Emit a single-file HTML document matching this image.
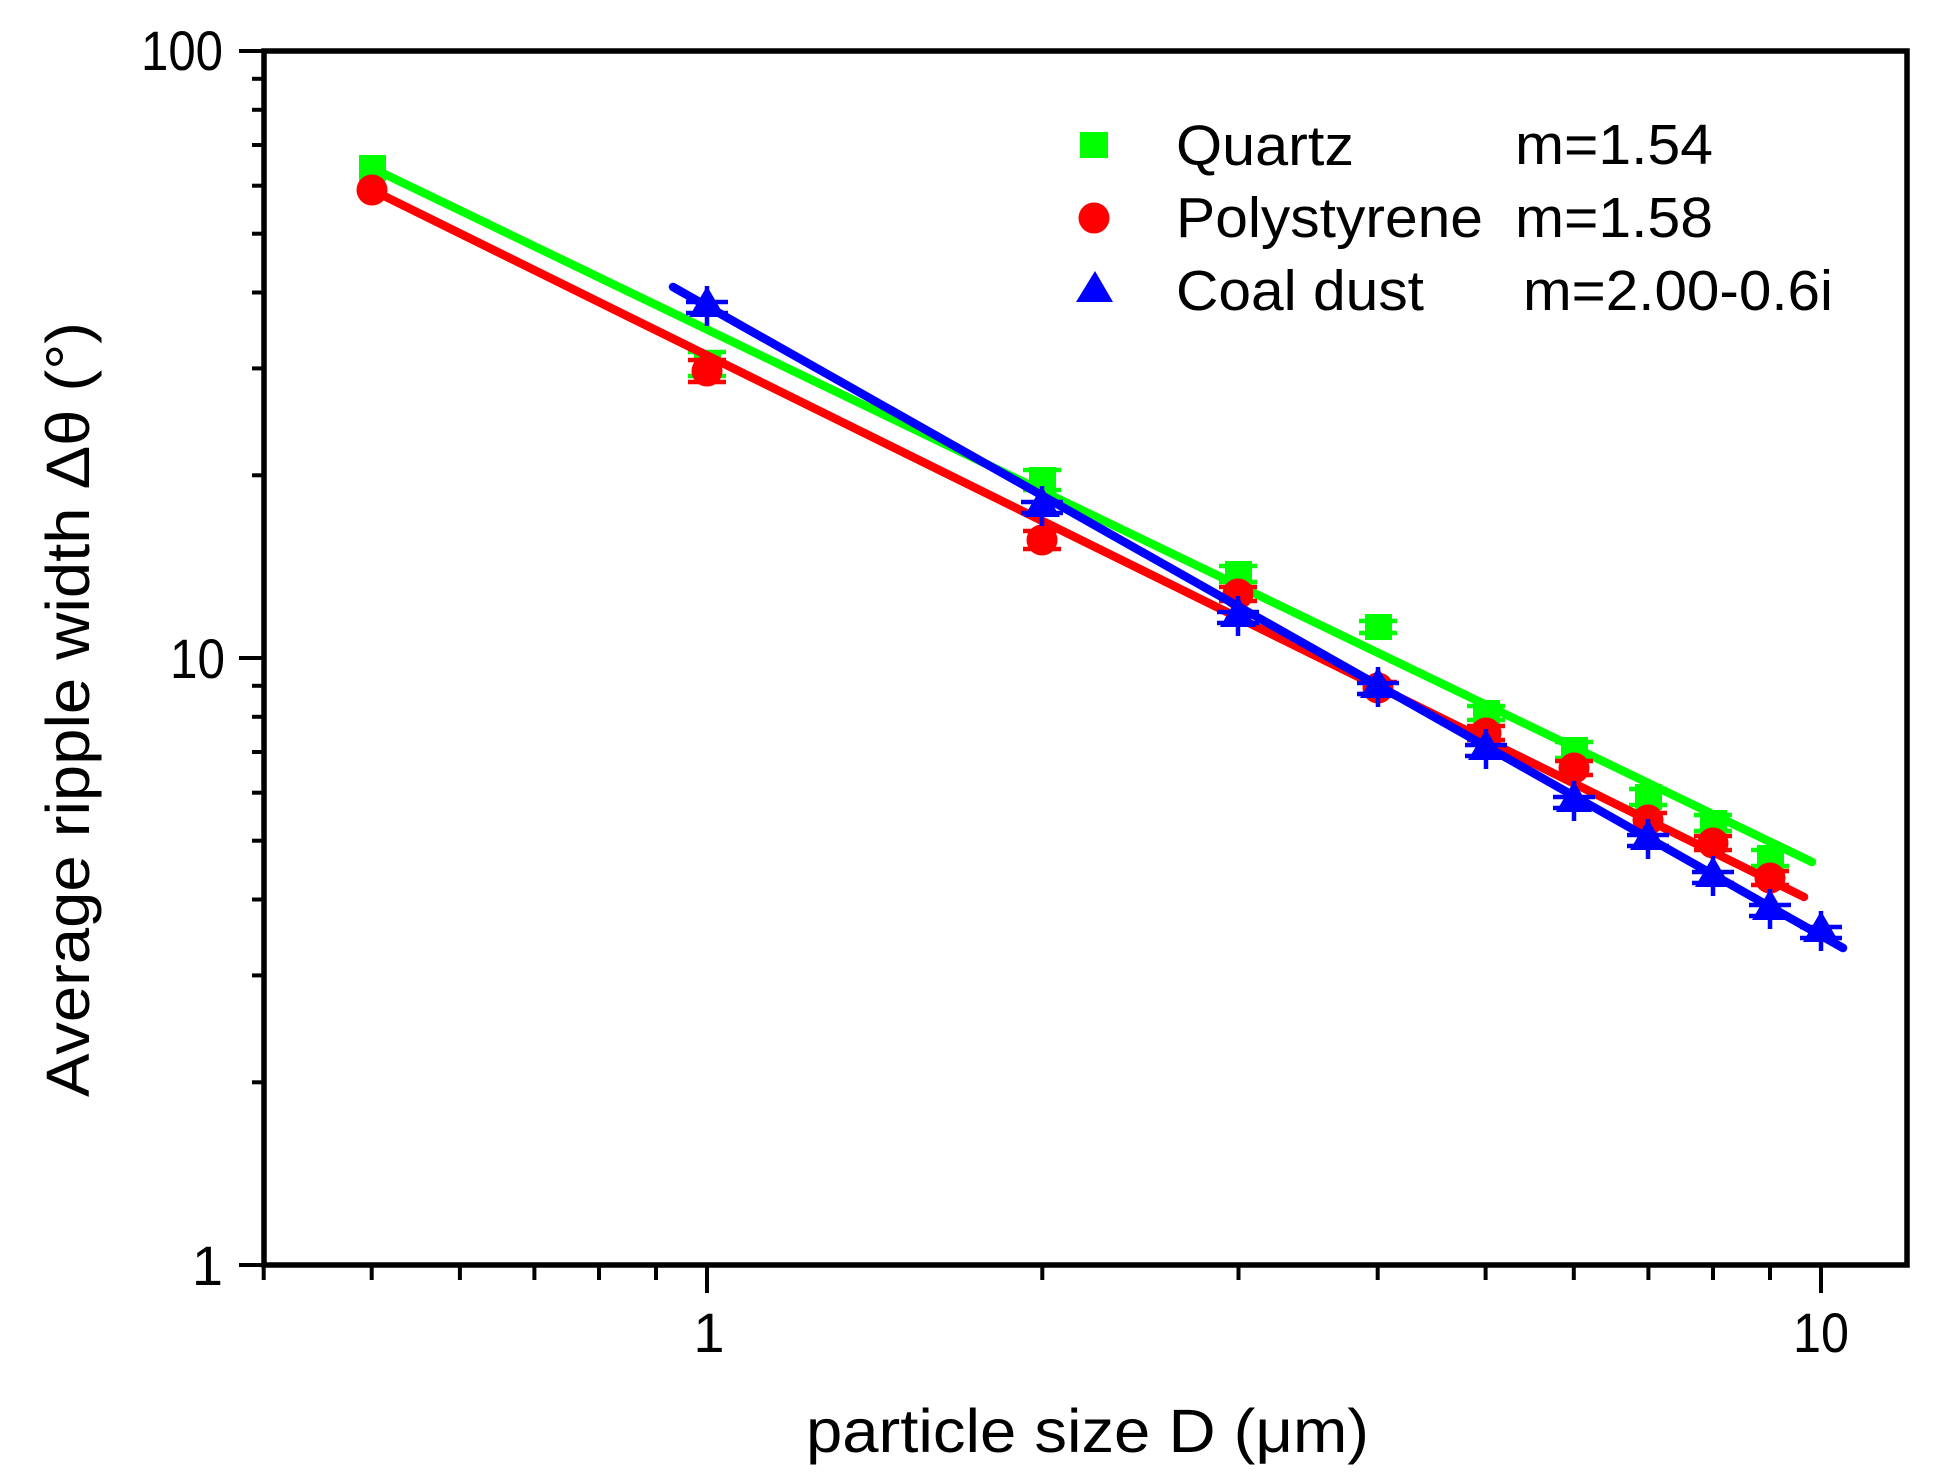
<!DOCTYPE html>
<html>
<head>
<meta charset="utf-8">
<style>
  html, body { margin: 0; padding: 0; background: #ffffff; }
  svg { display: block; }
  text { font-family: "Liberation Sans", Arial, sans-serif; fill: #000; }
</style>
</head>
<body>
<svg width="1945" height="1481" viewBox="0 0 1945 1481" xmlns="http://www.w3.org/2000/svg">
  <rect x="0" y="0" width="1945" height="1481" fill="#ffffff"/>

  <!-- Y axis ticks (outward, left) -->
  <g stroke="#000" stroke-width="4">
    <line x1="239" y1="51" x2="264" y2="51"/>
    <line x1="239" y1="658" x2="264" y2="658"/>
    <line x1="239" y1="1265" x2="264" y2="1265"/>
    <line x1="252" y1="1082.3" x2="264" y2="1082.3"/>
    <line x1="252" y1="975.4" x2="264" y2="975.4"/>
    <line x1="252" y1="899.5" x2="264" y2="899.5"/>
    <line x1="252" y1="840.7" x2="264" y2="840.7"/>
    <line x1="252" y1="792.7" x2="264" y2="792.7"/>
    <line x1="252" y1="752.0" x2="264" y2="752.0"/>
    <line x1="252" y1="716.8" x2="264" y2="716.8"/>
    <line x1="252" y1="685.8" x2="264" y2="685.8"/>
    <line x1="252" y1="475.3" x2="264" y2="475.3"/>
    <line x1="252" y1="368.4" x2="264" y2="368.4"/>
    <line x1="252" y1="292.5" x2="264" y2="292.5"/>
    <line x1="252" y1="233.7" x2="264" y2="233.7"/>
    <line x1="252" y1="185.7" x2="264" y2="185.7"/>
    <line x1="252" y1="145.0" x2="264" y2="145.0"/>
    <line x1="252" y1="109.8" x2="264" y2="109.8"/>
    <line x1="252" y1="78.8" x2="264" y2="78.8"/>
  </g>

  <!-- X axis ticks (outward, down) -->
  <g stroke="#000" stroke-width="4">
    <line x1="707" y1="1265" x2="707" y2="1293"/>
    <line x1="1821" y1="1265" x2="1821" y2="1293"/>
    <line x1="263.7" y1="1265" x2="263.7" y2="1280"/>
    <line x1="371.7" y1="1265" x2="371.7" y2="1280"/>
    <line x1="459.9" y1="1265" x2="459.9" y2="1280"/>
    <line x1="534.4" y1="1265" x2="534.4" y2="1280"/>
    <line x1="599.0" y1="1265" x2="599.0" y2="1280"/>
    <line x1="656.0" y1="1265" x2="656.0" y2="1280"/>
    <line x1="1042.3" y1="1265" x2="1042.3" y2="1280"/>
    <line x1="1238.5" y1="1265" x2="1238.5" y2="1280"/>
    <line x1="1377.7" y1="1265" x2="1377.7" y2="1280"/>
    <line x1="1485.6" y1="1265" x2="1485.6" y2="1280"/>
    <line x1="1573.8" y1="1265" x2="1573.8" y2="1280"/>
    <line x1="1648.4" y1="1265" x2="1648.4" y2="1280"/>
    <line x1="1713.0" y1="1265" x2="1713.0" y2="1280"/>
    <line x1="1770.0" y1="1265" x2="1770.0" y2="1280"/>
  </g>

  <!-- Frame -->
  <rect x="264" y="51" width="1643" height="1214" fill="none" stroke="#000" stroke-width="5.5"/>

  <!-- Tick labels -->
  <g font-size="56">
    <text x="223" y="70" text-anchor="end" textLength="82" lengthAdjust="spacingAndGlyphs">100</text>
    <text x="225" y="678" text-anchor="end" textLength="55" lengthAdjust="spacingAndGlyphs">10</text>
    <text x="223" y="1285" text-anchor="end">1</text>
    <text x="709" y="1352" text-anchor="middle">1</text>
    <text x="1821" y="1352" text-anchor="middle" textLength="56" lengthAdjust="spacingAndGlyphs">10</text>
  </g>

  <!-- Axis titles -->
  <text x="806" y="1452" font-size="61" textLength="563" lengthAdjust="spacingAndGlyphs">particle size D (μm)</text>
  <text transform="translate(89,1097) rotate(-90)" font-size="61" textLength="775" lengthAdjust="spacingAndGlyphs">Average ripple width Δθ (°)</text>

  <!-- ============ Quartz (green) ============ -->
  <g fill="#00ff00" stroke="none">
    <rect x="359" y="155" width="27" height="26"/>
    <rect x="694" y="351" width="27" height="26"/>
    <rect x="1029" y="467" width="27" height="26"/>
    <rect x="1225" y="561" width="27" height="26"/>
    <rect x="1365" y="614" width="27" height="26"/>
    <rect x="1473" y="700" width="27" height="26"/>
    <rect x="1561" y="737" width="27" height="26"/>
    <rect x="1635" y="784" width="27" height="26"/>
    <rect x="1700" y="810" width="27" height="26"/>
    <rect x="1757" y="845" width="27" height="26"/>
  </g>
  <g stroke="#00ff00" stroke-width="4.5">
    <path d="M707 352 V376 M688 352 H726 M688 376 H726"/>
    <path d="M1042 470 V490 M1023 470 H1061 M1023 490 H1061"/>
    <path d="M1238 566 V582 M1219 566 H1257 M1219 582 H1257"/>
    <path d="M1378 621 V633 M1359 621 H1397 M1359 633 H1397"/>
    <path d="M1486 706 V720 M1467 706 H1505 M1467 720 H1505"/>
    <path d="M1574 742 V758 M1555 742 H1593 M1555 758 H1593"/>
    <path d="M1648 789 V805 M1629 789 H1667 M1629 805 H1667"/>
    <path d="M1713 815 V831 M1694 815 H1732 M1694 831 H1732"/>
    <path d="M1770 850 V866 M1751 850 H1789 M1751 866 H1789"/>
  </g>
  <line x1="372" y1="168" x2="1812" y2="862" stroke="#00ff00" stroke-width="8.5" stroke-linecap="round"/>

  <!-- ============ Polystyrene (red) ============ -->
  <g fill="#ff0000" stroke="none">
    <circle cx="372" cy="190" r="15.5"/>
    <circle cx="707" cy="371" r="15.5"/>
    <circle cx="1042" cy="540" r="15.5"/>
    <circle cx="1238" cy="594" r="15.5"/>
    <circle cx="1378" cy="688" r="15.5"/>
    <circle cx="1486" cy="733" r="15.5"/>
    <circle cx="1574" cy="768" r="15.5"/>
    <circle cx="1648" cy="820" r="15.5"/>
    <circle cx="1713" cy="843" r="15.5"/>
    <circle cx="1770" cy="878" r="15.5"/>
  </g>
  <g stroke="#ff0000" stroke-width="4.5">
    <path d="M707 360 V382 M688 360 H726 M688 382 H726"/>
    <path d="M1042 531 V549 M1023 531 H1061 M1023 549 H1061"/>
    <path d="M1238 587 V601 M1219 587 H1257 M1219 601 H1257"/>
    <path d="M1378 682 V694 M1359 682 H1397 M1359 694 H1397"/>
    <path d="M1486 726 V740 M1467 726 H1505 M1467 740 H1505"/>
    <path d="M1574 761 V775 M1555 761 H1593 M1555 775 H1593"/>
    <path d="M1648 813 V827 M1629 813 H1667 M1629 827 H1667"/>
    <path d="M1713 836 V850 M1694 836 H1732 M1694 850 H1732"/>
    <path d="M1770 871 V885 M1751 871 H1789 M1751 885 H1789"/>
  </g>
  <line x1="372" y1="190" x2="1804" y2="897" stroke="#ff0000" stroke-width="8.5" stroke-linecap="round"/>

  <!-- ============ Coal dust (blue) ============ -->
  <g fill="#0000ff" stroke="none">
    <polygon points="689,317 725,317 707,286"/>
    <polygon points="1024,517 1060,517 1042,486"/>
    <polygon points="1220,627 1256,627 1238,596"/>
    <polygon points="1360,698 1396,698 1378,667"/>
    <polygon points="1468,760 1504,760 1486,729"/>
    <polygon points="1556,812 1592,812 1574,781"/>
    <polygon points="1630,850 1666,850 1648,819"/>
    <polygon points="1695,887 1731,887 1713,856"/>
    <polygon points="1752,920 1788,920 1770,889"/>
    <polygon points="1803,942 1839,942 1821,911"/>
  </g>
  <g stroke="#0000ff" stroke-width="4.5">
    <path d="M707 286 V326 M686 302 H728 M686 313 H728"/>
    <path d="M1042 486 V526 M1021 502 H1063 M1021 513 H1063"/>
    <path d="M1238 596 V636 M1217 612 H1259 M1217 623 H1259"/>
    <path d="M1378 667 V707 M1357 683 H1399 M1357 694 H1399"/>
    <path d="M1486 729 V769 M1465 745 H1507 M1465 756 H1507"/>
    <path d="M1574 781 V821 M1553 797 H1595 M1553 808 H1595"/>
    <path d="M1648 819 V859 M1627 835 H1669 M1627 846 H1669"/>
    <path d="M1713 856 V896 M1692 872 H1734 M1692 883 H1734"/>
    <path d="M1770 889 V929 M1749 905 H1791 M1749 916 H1791"/>
    <path d="M1821 911 V951 M1800 927 H1842 M1800 938 H1842"/>
  </g>
  <line x1="673" y1="287" x2="1843" y2="948" stroke="#0000ff" stroke-width="8.5" stroke-linecap="round"/>

  <!-- ============ Legend ============ -->
  <rect x="1080" y="132" width="28" height="26" fill="#00ff00"/>
  <circle cx="1094" cy="218" r="15.5" fill="#ff0000"/>
  <polygon points="1076,302 1113,302 1095,271" fill="#0000ff"/>
  <g font-size="57">
    <text x="1176" y="165" textLength="178" lengthAdjust="spacingAndGlyphs">Quartz</text>
    <text x="1176" y="237" textLength="307" lengthAdjust="spacingAndGlyphs">Polystyrene</text>
    <text x="1176" y="310" textLength="248" lengthAdjust="spacingAndGlyphs">Coal dust</text>
    <text x="1515" y="164" textLength="198" lengthAdjust="spacingAndGlyphs">m=1.54</text>
    <text x="1515" y="237" textLength="198" lengthAdjust="spacingAndGlyphs">m=1.58</text>
    <text x="1523" y="310" textLength="310" lengthAdjust="spacingAndGlyphs">m=2.00-0.6i</text>
  </g>
</svg>
</body>
</html>
